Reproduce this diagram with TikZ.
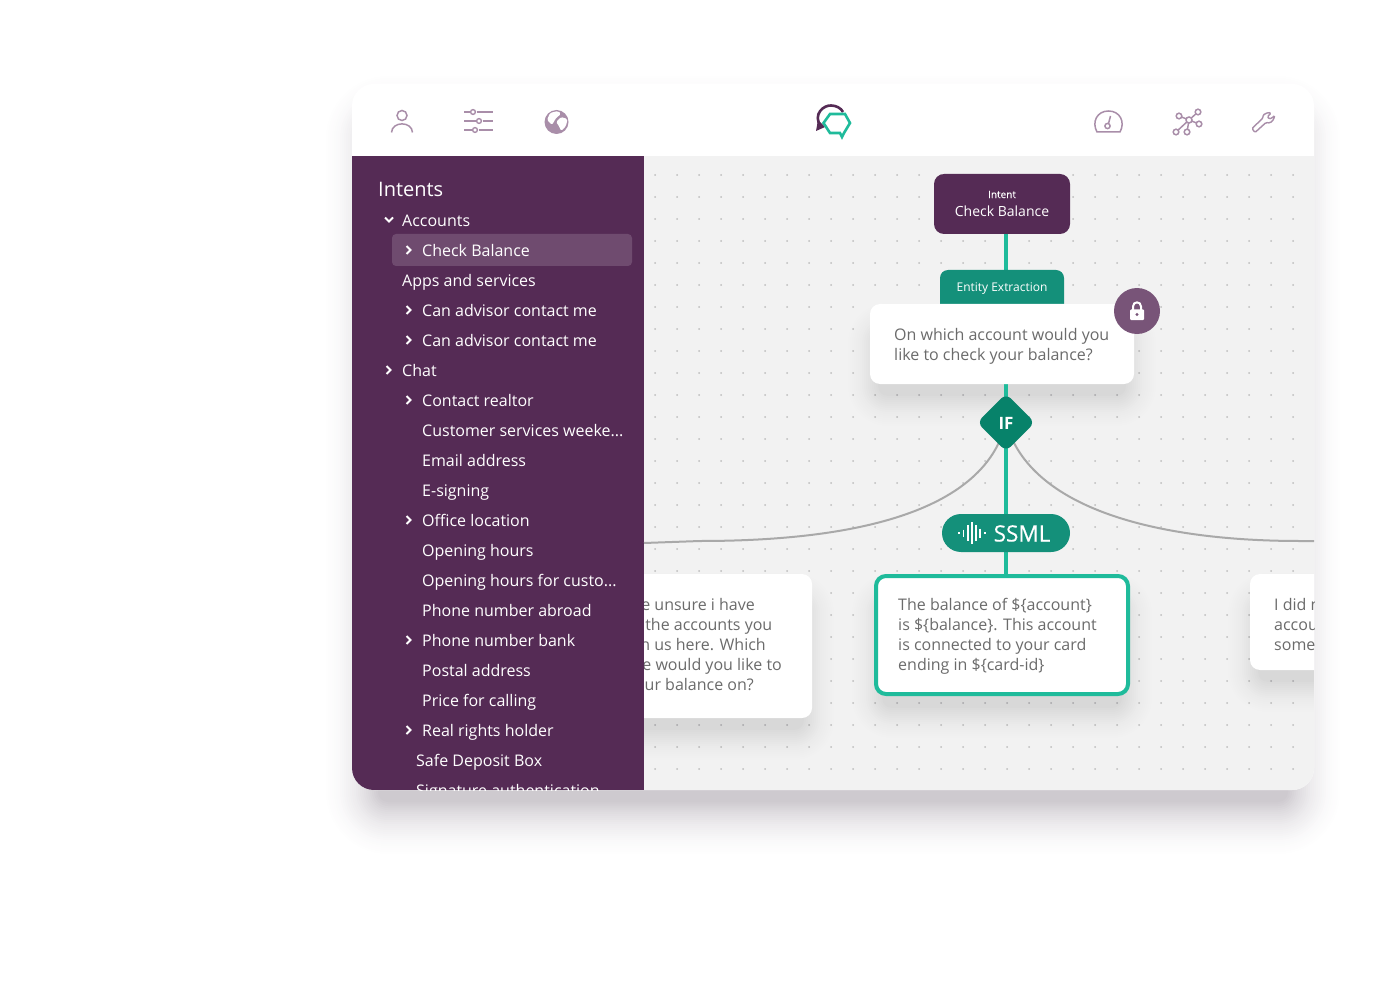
\documentclass[tikz,border=0pt]{standalone}
\usepackage{fontspec}
\setmainfont{Open Sans}
\usetikzlibrary{calc,shapes.geometric}
\definecolor{plum}{HTML}{552B55}
\definecolor{plumlight}{HTML}{6F4B6F}
\definecolor{plumbadge}{HTML}{785478}
\definecolor{plumicon}{HTML}{A98EA9}
\definecolor{tealdark}{HTML}{14907A}
\definecolor{tealgate}{HTML}{07826A}
\definecolor{tealline}{HTML}{1FBB9B}
\definecolor{canvasgrey}{HTML}{F2F2F2}
\definecolor{dotgrey}{HTML}{BDBDBD}
\definecolor{wiregrey}{HTML}{A9A9A9}
\definecolor{bodygrey}{HTML}{6B6B6B}
\definecolor{shadowtint}{HTML}{3A2A40}
\pgfdeclarelayer{panel}
\pgfdeclarelayer{wires}
\pgfsetlayers{panel,wires,main}
% stacked rectangles, each outer one fainter than the last
\newcommand{\softshadow}[6]{%
    \foreach \s in {1,...,#5}{%
        \pgfmathsetmacro{\shadealpha}{#6*(1.04-\s/#5)}
        \fill[shadowtint, fill opacity=\shadealpha, rounded corners={(8+2*\s)*1pt}]
            ({#1-2*\s},{#2-2*\s}) rectangle ({#3+2*\s},{#4+2*\s});
    }%
}
\newcommand{\cutoff}{...}
\tikzset{
    sideitem/.style={anchor=base west, inner sep=0pt, text=white, font=\fontsize{16}{20}\selectfont},
    chevron/.style={draw=white, line width=1.8pt, line join=miter},
    icon/.style={draw=plumicon, line width=1.5pt, fill=none},
    cardbox/.style={fill=white, rounded corners=10pt, inner sep=0pt},
    cardtext/.style={inner sep=0pt, align=left, text=bodygrey, font=\fontsize{16}{20}\selectfont},
    cardline/.style={inner sep=0pt, text=bodygrey, font=\fontsize{16}{20}\selectfont},
    flow/.style={draw=tealline, line width=4pt},
    branch/.style={draw=wiregrey, line width=2pt}
}

\begin{document}
\begin{tikzpicture}[x=1pt, y=-1pt]
    \useasboundingbox (0,0) rectangle (1400,1000);
    \begin{pgfonlayer}{panel}
        % window with its shadow
        \softshadow{380}{130}{1286}{800}{30}{0.016}
        \fill[white, rounded corners=22pt] (352,84) rectangle (1314,790);
        \begin{scope}
            \clip[rounded corners=22pt] (352,84) rectangle (1314,790);
            \fill[canvasgrey] (644,156) rectangle (1314,790);
            \foreach \k in {0,...,29}{
                \foreach \j in {0,...,27}{
                    \fill[dotgrey] ({655+22*\k},{175+22*\j}) circle (1pt);
                }
            }
            \begin{scope}
                \clip (644,156) rectangle (1314,790);
                \softshadow{880}{335}{1124}{394}{20}{0.01}
                \softshadow{884}{605}{1120}{706}{20}{0.01}
                \softshadow{600}{605}{802}{728}{20}{0.01}
                \softshadow{1260}{605}{1400}{680}{20}{0.01}
            \end{scope}
            \fill[plum] (352,156) rectangle (644,790);
        \end{scope}
    \end{pgfonlayer}

    % header icons
    \draw[icon] (402,115.5) circle (5pt);
    \draw[icon] (391.5,132.5) .. controls (392,121) and (412,121) .. (412.5,132.5);
    \foreach \rowy/\knobx in {112/473, 121/479, 130/475}{
        \draw[icon] (464,\rowy) -- ({\knobx-3.5},\rowy);
        \draw[icon] ({\knobx+3.5},\rowy) -- (493,\rowy);
        \draw[icon, line width=1.4pt] (\knobx,\rowy) circle (2.4pt);
    }
    \fill[plumicon] (556.5,122) circle (12pt);
    \fill[white, rounded corners=1.5pt] (547,120) -- (550,113) -- (558,111) -- (561,114) -- (556,118) -- (552,125) -- cycle;
    \fill[white, rounded corners=1.5pt] (556,122) -- (561,117) -- (567.5,119) -- (566,126) -- (561,131) -- (559,126) -- cycle;

    % logo
    \draw[plum, line width=2.6pt] (821,127) .. controls (812,114) and (824,105) .. (831,105.5) .. controls (836,105.5) and (841,108) .. (843,112);
    \fill[plum] (816,131) -- (818,120) -- (825,127) -- cycle;
    \draw[tealline, line width=2.6pt, fill=white, line join=miter] (823.5,123) -- (830,114) -- (845,114) -- (850,123) -- (844,133) -- (842,137) -- (840,133) -- (830,133) -- cycle;

    % gauge, network, wrench
    \draw[icon] (1097,132) -- (1120,132) .. controls (1125.5,122) and (1120,111) .. (1108.5,111) .. controls (1097,111) and (1091.5,122) .. (1097,132) -- cycle;
    \draw[icon] (1107.5,126) circle (2.6pt);
    \draw[icon] (1108.5,123.5) -- (1110.5,116);
    \foreach \hubx/\huby in {1198/112, 1179/116, 1199/124, 1187/132, 1176/132}{
        \draw[icon] (1189,120) -- (\hubx,\huby);
        \draw[icon, fill=white] (\hubx,\huby) circle (2.8pt);
    }
    \draw[icon, fill=white] (1189,120) circle (3pt);
    \draw[icon, line width=1.4pt, rounded corners=1.2pt] (1252,128.5) -- (1263,118) -- (1263,115) -- (1268,112.5) -- (1271,113) -- (1267.5,116.5) -- (1269,119) -- (1272,118) -- (1274.5,115.5) -- (1274,119) -- (1270,123) -- (1266,122.5) -- (1255,132.5) -- cycle;

    % sidebar
    \node[sideitem, font=\fontsize{20}{24}\selectfont] (intents) at (378,197) {Intents};
    \fill[plumlight, rounded corners=4pt] (392,234) rectangle (632,266);
    \begin{scope}
        \clip (352,156) rectangle (644,790);
        \foreach \ypos/\xpos/\txt in {
            220/402/Accounts, 250/422/Check Balance, 280/402/Apps and services,
            310/422/Can advisor contact me, 340/422/Can advisor contact me, 370/402/Chat,
            400/422/Contact realtor, 430/422/Customer services weeke\cutoff, 460/422/Email address,
            490/422/E-signing, 520/422/Office location, 550/422/Opening hours,
            580/422/Opening hours for custo\cutoff, 610/422/Phone number abroad, 640/422/Phone number bank,
            670/422/Postal address, 700/422/Price for calling, 730/422/Real rights holder,
            760/416/Safe Deposit Box, 790/416/Signature authentication}{
            \node[sideitem] (item\ypos) at (\xpos,\ypos+6.5) {\txt};
        }
    \end{scope}
    \draw[chevron] (385,217.5) -- (389,221.5) -- (393,217.5);
    \foreach \chevx/\chevy in {408.5/250, 408.5/310, 408.5/340, 388.5/370, 408.5/400, 408.5/520, 408.5/640, 408.5/730}{
        \draw[chevron] ({\chevx-2},{\chevy-4}) -- ({\chevx+2},\chevy) -- ({\chevx-2},{\chevy+4});
    }

    % flow nodes
    \node[fill=plum, rounded corners=10pt, minimum width=136pt, minimum height=60pt, inner sep=0pt] (intent) at (1002,204) {};
    \node[inner sep=0pt, text=white, font=\fontsize{10}{12}\selectfont\addfontfeature{FakeBold=0.2}] (intenttag) at (1002,194.5) {Intent};
    \node[inner sep=0pt, text=white, font=\fontsize{14}{18}\selectfont] (intentname) at (1002,211) {Check Balance};
    \node[fill=tealdark, rounded corners=8pt, minimum width=124pt, minimum height=50pt, inner sep=0pt] (entity) at (1002,295) {};
    \node[inner sep=0pt, text=white, font=\fontsize{12}{14}\selectfont] (entitytag) at (1002,288.5) {Entity Extraction};
    \node[cardbox, minimum width=264pt, minimum height=80pt] (question) at (1002,344) {};
    \node[cardtext, anchor=north west] (questiontext) at (894,328.5) {On which account would you\\like to check your balance?};
    \node[circle, fill=plumbadge, minimum size=46pt, inner sep=0pt] (lockbadge) at (1137,311) {};
    \fill[white, rounded corners=1pt] (1130,309.5) rectangle (1144,320);
    \draw[white, line width=2pt] (1133,310) -- (1133,306.5) .. controls (1133,301) and (1141,301) .. (1141,306.5) -- (1141,310);
    \fill[plumbadge] (1137,314.5) circle (1.6pt);

    \node[diamond, aspect=1, fill=tealgate, rounded corners=7pt, minimum size=58pt, inner sep=0pt] (ifgate) at (1006,422.5) {};
    \node[inner sep=0pt, text=white, font=\fontsize{17}{19}\selectfont\bfseries] (iftag) at (1006,423) {IF};
    \node[fill=tealdark, rounded corners=19pt, minimum width=128pt, minimum height=38pt, inner sep=0pt] (ssml) at (1006,533) {};
    \foreach \barx/\barh in {959/2, 963.5/7, 968/16, 972/22, 976/16, 980/9, 985/2}{
        \draw[white, line width=1.7pt] (\barx,{533-\barh/2}) -- (\barx,{533+\barh/2});
    }
    \node[anchor=base west, inner sep=0pt, text=white, font=\fontsize{22.5}{28}\selectfont\addfontfeature{FakeBold=0.3}] (ssmltag) at (993.5,541.5) {SSML};

    \node[cardbox, draw=tealline, line width=4pt, minimum width=252pt, minimum height=118pt] (balance) at (1002,635) {};
    \node[cardtext, anchor=north west] (balancetext) at (898,598.5) {The balance of \$\{account\}\\is \$\{balance\}. This account\\is connected to your card\\ending in \$\{card-id\}};

    % side cards are cut off by the canvas
    \begin{scope}
        \clip (644,156) rectangle (1314,790);
        \fill[white, rounded corners=10pt] (600,574) rectangle (812,718);
        \node[cardbox, minimum width=142pt, minimum height=96pt] (rightcard) at (1321,622) {};
        \foreach \liney/\lineend/\txt in {610/755/e unsure i have, 630/772.5/the accounts you, 650/766/h us here. Which, 670/782/e would you like to, 690/754/ur balance on?}{
            \node[cardline, anchor=base east] (left\liney) at (\lineend,\liney) {\txt};
        }
        \foreach \liney/\txt in {610/I did n, 630/accou, 650/some}{
            \node[cardline, anchor=base west] (right\liney) at (1274,\liney) {\txt};
        }
    \end{scope}

    % connectors
    \begin{pgfonlayer}{wires}
        \coordinate (leftend) at (644,543);
        \coordinate (rightend) at (1314,541);
        \draw[branch] (ifgate.center) .. controls (985,510) and (860,541) .. (700,541) -- (leftend);
        \draw[branch] (ifgate.center) .. controls (1030,510) and (1160,541) .. (1300,541) -- (rightend);
        \draw[flow] (intent.south -| ifgate) -- (entity.north -| ifgate);
        \draw[flow] (question.south -| ifgate) -- (ifgate.center);
        \draw[flow] (ifgate.center) -- (ssml.center);
        \draw[flow] (ssml.center) -- (balance.north -| ifgate);
    \end{pgfonlayer}
\end{tikzpicture}
\end{document}
